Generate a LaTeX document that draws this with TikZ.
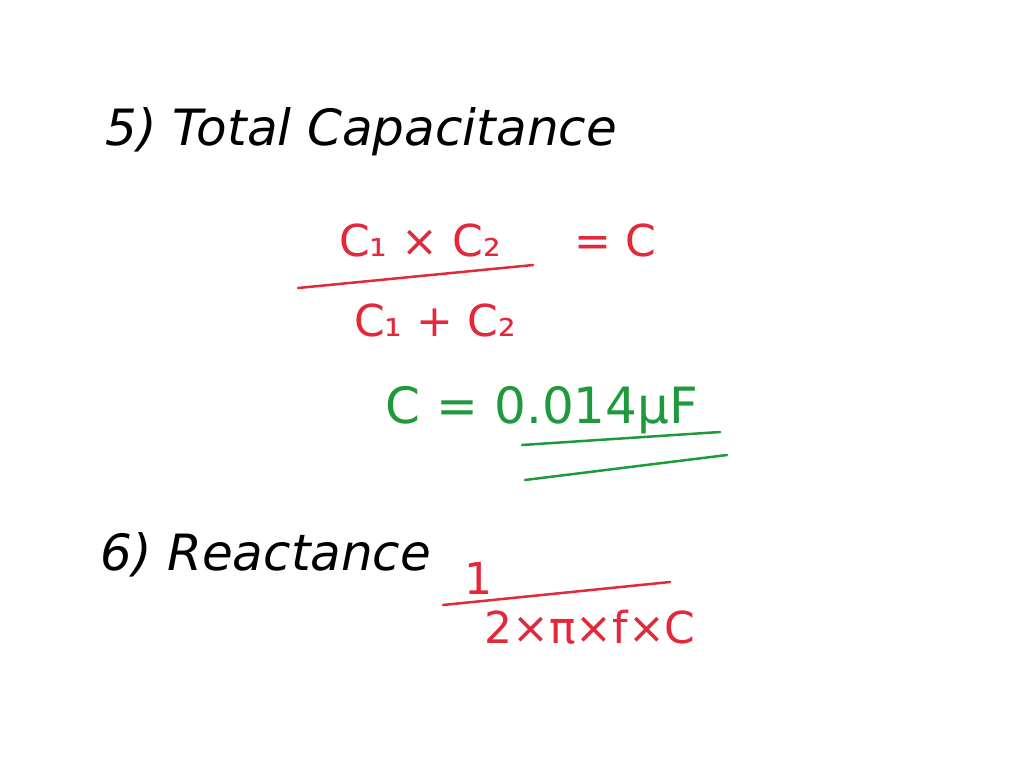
\documentclass[tikz,border=0pt]{standalone}
\usepackage{fontspec}
\setmainfont{DejaVu Sans}
\definecolor{inkred}{HTML}{E3283A}
\definecolor{inkgreen}{HTML}{1E9A3C}
\begin{document}
\begin{tikzpicture}[x=1pt,y=-1pt,
  big/.style={font=\fontsize{50}{54}\selectfont\itshape, inner sep=0pt, anchor=west},
  mid/.style={font=\fontsize{44}{48}\selectfont, inner sep=0pt},
  pen/.style={line width=2.5pt, line cap=round}]
\useasboundingbox[fill=white] (0,0) rectangle (1024,768);
\node[big] (t5) at (105,132) {5)\ Total Capacitance};
\node[mid, text=inkred] (num) at (420,240) {C₁ × C₂};
\coordinate (fl) at (298,288); \coordinate (fr) at (533,265);
\draw[pen, inkred] (fl) -- (fr);
\node[mid, text=inkred] (den) at (435,320) {C₁ + C₂};
\node[mid, text=inkred] (eqc) at (615,240) {= C};
\node[mid, text=inkgreen, font=\fontsize{50}{54}\selectfont] (cv) at (542,410) {C = 0.014μF};
\coordinate (u1a) at (522,445); \coordinate (u1b) at (720,432);
\coordinate (u2a) at (525,480); \coordinate (u2b) at (727,455);
\draw[pen, inkgreen] (u1a) -- (u1b);
\draw[pen, inkgreen] (u2a) -- (u2b);
\node[big] (t6) at (100,555) {6)\ Reactance};
\node[mid, text=inkred] (one) at (478,578) {1};
\coordinate (rl) at (443,605); \coordinate (rr) at (670,582);
\draw[pen, inkred] (rl) -- (rr);
\node[mid, text=inkred] (rden) at (590,627) {2×π×f×C};
\end{tikzpicture}
\end{document}
